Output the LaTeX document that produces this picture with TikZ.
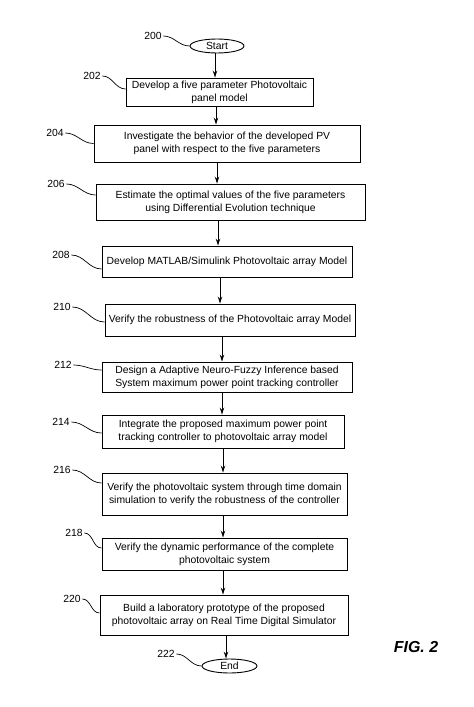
\documentclass[tikz,border=0pt]{standalone}
\usepackage{fontspec}
\setmainfont{Liberation Sans}
\usetikzlibrary{shapes.geometric,arrows.meta}
\begin{document}
\begin{tikzpicture}[x=1bp,y=-1bp,
  txt/.style={font=\fontsize{10.4}{13}\selectfont},
  box/.style={txt, draw, line width=0.9bp, align=center, inner sep=1bp},
  term/.style={txt, draw, ellipse, line width=0.9bp, inner sep=0pt, minimum width=54bp, minimum height=14bp},
  lbl/.style={txt, inner sep=1.5bp},
  lead/.style={line width=0.7bp},
  arr/.style={line width=0.9bp, -{Stealth[length=7bp,width=4.5bp]}}]
\useasboundingbox (0,0) rectangle (474,707);

% terminals
\node[term] (start) at (217,46) {Start};
\node[term, minimum width=55bp] (end) at (229.5,666) {End};

% process boxes
\node[box, minimum width=187bp, minimum height=28bp] (b202) at (219.5,92) {Develop a five parameter Photovoltaic\\panel model};
\node[box, minimum width=266bp, minimum height=37bp] (b204) at (227,143.5) {Investigate the behavior of the developed PV\\panel with respect to the five parameters};
\node[box, minimum width=269bp, minimum height=36bp] (b206) at (230.5,202) {Estimate the optimal values of the five parameters\\using Differential Evolution technique};
\node[box, minimum width=250bp, minimum height=31bp] (b208) at (227,261.5) {Develop MATLAB/Simulink Photovoltaic array Model};
\node[box, minimum width=250bp, minimum height=32bp] (b210) at (230,320) {Verify the robustness of the Photovoltaic array Model};
\node[box, minimum width=250bp, minimum height=30bp] (b212) at (227,377) {Design a Adaptive Neuro-Fuzzy Inference based\\System maximum power point tracking controller};
\node[box, minimum width=242bp, minimum height=33bp] (b214) at (223,431.5) {Integrate the proposed maximum power point\\tracking controller to photovoltaic array model};
\node[box, minimum width=245bp, minimum height=42bp] (b216) at (224.5,494) {Verify the photovoltaic system through time domain\\simulation to verify the robustness of the controller};
\node[box, minimum width=245bp, minimum height=32bp] (b218) at (224.5,554) {Verify the dynamic performance of the complete\\photovoltaic system};
\node[box, minimum width=248bp, minimum height=40bp] (b220) at (224,615) {Build a laboratory prototype of\ the proposed\\photovoltaic array on Real Time Digital Simulator};

% arrow x positions
\coordinate (xa) at (215,0);
\coordinate (xb) at (216,0);
\coordinate (xc) at (217,0);
\coordinate (xd) at (218,0);
\coordinate (xe) at (220,0);
\coordinate (xf) at (222,0);
\coordinate (xg) at (222,0);
\coordinate (xh) at (223,0);
\coordinate (xi) at (223,0);
\coordinate (xj) at (223,0);
\coordinate (xk) at (226,0);

\draw[arr] (start.south -| xa) -- (b202.north -| xa);
\draw[arr] (b202.south -| xb) -- (b204.north -| xb);
\draw[arr] (b204.south -| xc) -- (b206.north -| xc);
\draw[arr] (b206.south -| xd) -- (b208.north -| xd);
\draw[arr] (b208.south -| xe) -- (b210.north -| xe);
\draw[arr] (b210.south -| xf) -- (b212.north -| xf);
\draw[arr] (b212.south -| xg) -- (b214.north -| xg);
\draw[arr] (b214.south -| xh) -- (b216.north -| xh);
\draw[arr] (b216.south -| xi) -- (b218.north -| xi);
\draw[arr] (b218.south -| xj) -- (b220.north -| xj);
\draw[arr] (b220.south -| xk) -- (end.north -| xk);

% reference labels
\node[lbl] (l200) at (153,36) {200};
\node[lbl] (l202) at (92,76) {202};
\node[lbl] (l204) at (55,133) {204};
\node[lbl] (l206) at (56,184) {206};
\node[lbl] (l208) at (61,255) {208};
\node[lbl] (l210) at (62,307) {210};
\node[lbl] (l212) at (63,365) {212};
\node[lbl] (l214) at (61,422) {214};
\node[lbl] (l216) at (62,470) {216};
\node[lbl] (l218) at (74,533) {218};
\node[lbl] (l220) at (72,599) {220};
\node[lbl] (l222) at (166,654) {222};

\draw[lead] (l200.east) to[out=0,in=180] (start.west);
\draw[lead] (l202.east) to[out=0,in=180] ([yshift=3bp]b202.west);
\draw[lead] (l204.east) to[out=0,in=180] (b204.west);
\draw[lead] (l206.east) to[out=0,in=180] ([yshift=7bp]b206.west);
\draw[lead] (l208.east) to[out=0,in=180] ([yshift=-7.5bp]b208.west);
\draw[lead] (l210.east) to[out=0,in=180] ([yshift=-2bp]b210.west);
\draw[lead] (l212.east) to[out=0,in=180] ([yshift=7bp]b212.west);
\draw[lead] (l214.east) to[out=0,in=180] ([yshift=-1.5bp]b214.west);
\draw[lead] (l216.east) to[out=0,in=180] ([yshift=11bp]b216.west);
\draw[lead] (l218.east) to[out=0,in=180] ([yshift=6bp]b218.west);
\draw[lead] (l220.east) to[out=0,in=180] ([yshift=2bp]b220.west);
\draw[lead] (l222.east) to[out=0,in=180] (end.west);

% figure label
\node[font=\fontsize{16}{19}\selectfont\bfseries\itshape] (fig) at (416,647) {FIG. 2};
\end{tikzpicture}
\end{document}
